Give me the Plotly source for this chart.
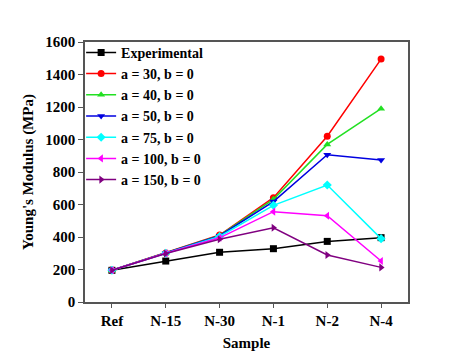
import plotly.graph_objects as go

samples = ["Ref", "N-15", "N-30", "N-1", "N-2", "N-4"]
experimental = [195, 252, 306, 328, 373, 396]
a30 = [195, 302, 412, 642, 1020, 1495]
a40 = [195, 302, 410, 632, 970, 1190]
a50 = [195, 300, 408, 618, 906, 874]
a75 = [195, 300, 403, 595, 720, 390]
a100 = [195, 300, 395, 556, 531, 252]
a150 = [195, 298, 386, 457, 289, 213]

series = [
    ("Experimental", experimental, "#000000", "square"),
    ("a = 30, b = 0", a30, "#FF0000", "circle"),
    ("a = 40, b = 0", a40, "#22E022", "triangle-up"),
    ("a = 50, b = 0", a50, "#0000E0", "triangle-down"),
    ("a = 75, b = 0", a75, "#00FFFF", "diamond"),
    ("a = 100, b = 0", a100, "#FF00FF", "triangle-left"),
    ("a = 150, b = 0", a150, "#800080", "triangle-right"),
]

fig = go.Figure()
for name, vals, color, sym in series:
    fig.add_trace(go.Scatter(
        x=samples, y=vals, name=name, mode="lines+markers",
        line=dict(color=color, width=1.5),
        marker=dict(symbol=sym, size=7, color=color),
    ))

font_family = "Liberation Serif, Times New Roman, serif"
# page body has an 8px default margin, so the figure is offset by 8px
fig.update_layout(
    width=458, height=346,
    margin=dict(l=77, r=58, t=34, b=52),
    paper_bgcolor="white", plot_bgcolor="white",
    font=dict(family=font_family, size=15, color="black"),
    showlegend=True,
    legend=dict(
        x=-0.012, y=1.02, xanchor="left", yanchor="top",
        bgcolor="rgba(0,0,0,0)", borderwidth=0,
        font=dict(family=font_family, size=14, color="black", weight="bold"),
        tracegroupgap=0, itemwidth=30,
    ),
    xaxis=dict(
        range=[-0.5, 5.5], automargin=False,
        showline=True, linecolor="#555555", linewidth=1.5, mirror=True,
        ticks="outside", ticklen=4, tickcolor="#555555",
        showgrid=False, zeroline=False,
        tickfont=dict(family=font_family, size=15, color="black", weight="bold"),
        title=dict(text="Sample", standoff=10,
                   font=dict(family=font_family, size=15, color="black", weight="bold")),
    ),
    yaxis=dict(
        range=[0, 1600], dtick=200, automargin=False,
        showline=True, linecolor="#555555", linewidth=1.5, mirror=True,
        ticks="outside", ticklen=5, tickcolor="#555555",
        showgrid=False, zeroline=False,
        tickfont=dict(family=font_family, size=15, color="black", weight="bold"),
        title=dict(text="Young's Modulus (MPa)", standoff=8,
                   font=dict(family=font_family, size=15, color="black", weight="bold")),
    ),
)

fig.write_html("out.html")
